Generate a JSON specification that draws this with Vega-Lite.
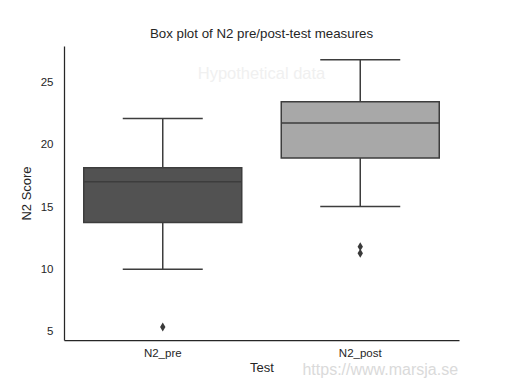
{
  "$schema": "https://vega.github.io/schema/vega-lite/v6.json",
  "width": 395,
  "height": 294,
  "autosize": {"type": "none"},
  "padding": {"left": 64, "top": 46, "right": 51, "bottom": 42},
  "background": "white",
  "config": {
    "view": {"stroke": null},
    "font": "Liberation Sans",
    "axis": {
      "domainColor": "#262626",
      "domainWidth": 1.25,
      "ticks": false,
      "grid": false,
      "labelColor": "#262626",
      "labelFontSize": 11.5,
      "titleFontSize": 13,
      "titleFontWeight": "normal",
      "titleColor": "#262626"
    }
  },
  "title": {
    "text": "Box plot of N2 pre/post-test measures",
    "fontSize": 13.3,
    "fontWeight": "normal",
    "color": "#262626",
    "offset": 6
  },
  "datasets": {
    "boxes": [
      {"test": "N2_pre", "lo": 10.02, "q1": 13.78, "median": 17.05, "q3": 18.17, "hi": 22.12},
      {"test": "N2_post", "lo": 15.05, "q1": 18.95, "median": 21.76, "q3": 23.48, "hi": 26.84}
    ],
    "outliers": [
      {"test": "N2_pre", "score": 5.37},
      {"test": "N2_post", "score": 11.83},
      {"test": "N2_post", "score": 11.3}
    ]
  },
  "layer": [
    {
      "data": {"name": "boxes"},
      "mark": {"type": "rule", "color": "#3d3d3d", "strokeWidth": 1.5},
      "encoding": {
        "x": {
          "field": "test", "type": "nominal", "sort": ["N2_pre", "N2_post"],
          "scale": {"paddingInner": 0, "paddingOuter": 0},
          "axis": {"title": "Test", "labelAngle": 0, "labelPadding": 7, "titlePadding": 3}
        },
        "y": {
          "field": "lo", "type": "quantitative", "title": "N2 Score",
          "scale": {"domain": [4.33, 27.95], "nice": false, "zero": false},
          "axis": {"values": [5, 10, 15, 20, 25], "labelPadding": 11, "titlePadding": 7}
        },
        "y2": {"field": "hi"}
      }
    },
    {
      "data": {"name": "boxes"},
      "mark": {"type": "bar", "width": {"band": 0.8}, "stroke": "#3d3d3d", "strokeWidth": 1.5, "opacity": 1},
      "encoding": {
        "x": {"field": "test", "type": "nominal", "sort": ["N2_pre", "N2_post"]},
        "y": {"field": "q1", "type": "quantitative", "title": "N2 Score"},
        "y2": {"field": "q3"},
        "color": {
          "field": "test", "type": "nominal",
          "scale": {"domain": ["N2_pre", "N2_post"], "range": ["#525252", "#a8a8a8"]},
          "legend": null
        }
      }
    },
    {
      "data": {"name": "boxes"},
      "mark": {"type": "tick", "size": 158, "thickness": 1.5, "color": "#3d3d3d", "opacity": 1},
      "encoding": {
        "x": {"field": "test", "type": "nominal", "sort": ["N2_pre", "N2_post"]},
        "y": {"field": "median", "type": "quantitative", "title": "N2 Score"}
      }
    },
    {
      "data": {"name": "boxes"},
      "mark": {"type": "tick", "size": 80, "thickness": 1.5, "color": "#3d3d3d", "opacity": 1},
      "encoding": {
        "x": {"field": "test", "type": "nominal", "sort": ["N2_pre", "N2_post"]},
        "y": {"field": "lo", "type": "quantitative", "title": "N2 Score"}
      }
    },
    {
      "data": {"name": "boxes"},
      "mark": {"type": "tick", "size": 80, "thickness": 1.5, "color": "#3d3d3d", "opacity": 1},
      "encoding": {
        "x": {"field": "test", "type": "nominal", "sort": ["N2_pre", "N2_post"]},
        "y": {"field": "hi", "type": "quantitative", "title": "N2 Score"}
      }
    },
    {
      "data": {"name": "outliers"},
      "mark": {"type": "point", "shape": "M0,-1L0.6,0L0,1L-0.6,0Z", "size": 80, "filled": true, "color": "#3a3a3a", "opacity": 1},
      "encoding": {
        "x": {"field": "test", "type": "nominal", "sort": ["N2_pre", "N2_post"]},
        "y": {"field": "score", "type": "quantitative", "title": "N2 Score"}
      }
    },
    {
      "data": {"values": [{"label": "Hypothetical data", "score": 25.7}]},
      "mark": {"type": "text", "fontSize": 16.5, "color": "#f0f0f0", "align": "center", "baseline": "middle"},
      "encoding": {
        "y": {"field": "score", "type": "quantitative", "title": "N2 Score"},
        "text": {"field": "label"}
      }
    },
    {
      "data": {"values": [{"label": "https://www.marsja.se", "test": "N2_post", "score": 1.9}]},
      "mark": {"type": "text", "fontSize": 16, "color": "#dadada", "align": "center", "baseline": "middle", "dx": 20},
      "encoding": {
        "x": {"field": "test", "type": "nominal", "sort": ["N2_pre", "N2_post"]},
        "y": {"field": "score", "type": "quantitative", "title": "N2 Score"},
        "text": {"field": "label"}
      }
    }
  ]
}
